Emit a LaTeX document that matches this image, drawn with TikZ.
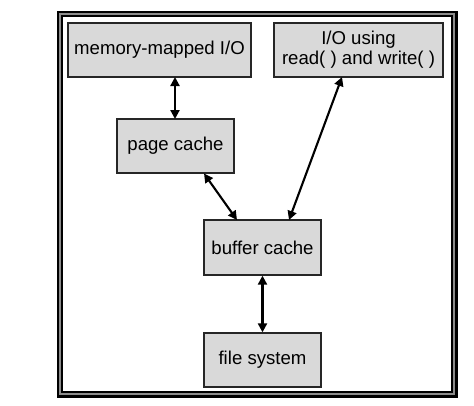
\documentclass[tikz,border=0pt]{standalone}
\usepackage{fontspec}
\setmainfont{Liberation Sans}
\usetikzlibrary{arrows.meta}
\begin{document}
\begin{tikzpicture}[x=1pt,y=-1pt,
  box/.style={draw=black!85,line width=1.3pt,fill=black!15,inner sep=0pt,font=\fontsize{18.6}{21}\selectfont,align=center},
  link/.style={line width=2.1pt,{Triangle[length=9pt,width=9pt]}-{Triangle[length=9pt,width=9pt]}}]
\useasboundingbox (0,0) rectangle (474,405);
\draw[line width=2.6pt,fill=black!45] (58,12) rectangle (456.5,396.5);
\draw[line width=1.1pt,fill=white] (62,16) rectangle (452,392);
\node[box,minimum width=183pt,minimum height=54pt] (mm) at (159.5,50) {memory-mapped I/O};
\node[box,minimum width=169pt,minimum height=54pt] (rw) at (358.5,50) {I/O using\\[-1pt]read( ) and write( )};
\node[box,minimum width=117pt,minimum height=54pt] (pc) at (175.5,146) {page cache};
\node[box,minimum width=117pt,minimum height=55pt] (bc) at (262.5,247.5) {buffer cache};
\node[box,minimum width=117pt,minimum height=54pt] (fs) at (262.5,360) {file system};
\coordinate (mmb) at (175,77);
\coordinate (pct) at (175,119);
\draw[link] (mmb) -- (pct);
\coordinate (pca) at (204,173.5);
\coordinate (bca) at (237,220);
\draw[link] (pca) -- (bca);
\coordinate (rwa) at (342,77);
\coordinate (bcb) at (289,220);
\draw[link] (rwa) -- (bcb);
\draw[link] (bc.south) -- (fs.north);
\end{tikzpicture}
\end{document}
